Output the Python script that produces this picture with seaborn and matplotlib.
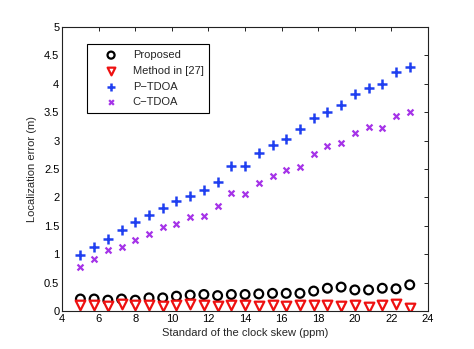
import numpy as np
import pandas as pd
import matplotlib
matplotlib.use("Agg")
import matplotlib.pyplot as plt
import seaborn as sns

# Clock skew standard deviation (ppm)
skew = [5, 5.75, 6.5, 7.25, 8, 8.75, 9.5, 10.25, 11, 11.75, 12.5, 13.25, 14,
        14.75, 15.5, 16.25, 17, 17.75, 18.5, 19.25, 20, 20.75, 21.5, 22.25, 23]

# Localization error (m) for each method
proposed = [0.21, 0.21, 0.19, 0.21, 0.19, 0.23, 0.23, 0.26, 0.28, 0.29, 0.27, 0.29, 0.29,
            0.30, 0.31, 0.31, 0.31, 0.35, 0.40, 0.42, 0.37, 0.37, 0.40, 0.39, 0.46]
method27 = [0.11, 0.10, 0.09, 0.12, 0.10, 0.10, 0.08, 0.11, 0.13, 0.10, 0.09, 0.11, 0.11,
            0.09, 0.10, 0.09, 0.10, 0.10, 0.10, 0.09, 0.10, 0.07, 0.10, 0.13, 0.06]
p_tdoa = [0.98, 1.13, 1.27, 1.42, 1.56, 1.69, 1.81, 1.94, 2.03, 2.13, 2.27, 2.56, 2.56,
          2.78, 2.92, 3.03, 3.20, 3.40, 3.51, 3.63, 3.81, 3.93, 3.99, 4.20, 4.29]
c_tdoa = [0.77, 0.91, 1.08, 1.13, 1.25, 1.36, 1.47, 1.53, 1.65, 1.68, 1.85, 2.08, 2.06,
          2.25, 2.37, 2.48, 2.54, 2.77, 2.91, 2.96, 3.13, 3.23, 3.22, 3.44, 3.50]

labels = ["Proposed", "Method in [27]", "P\u2212TDOA", "C\u2212TDOA"]

sns.set_theme(style="white")
plt.rcParams["font.family"] = ["Liberation Sans", "DejaVu Sans"]
plt.rcParams["font.size"] = 8

fig = plt.figure(figsize=(4.74, 3.49), dpi=100)
ax = fig.add_axes([0.131, 0.109, 0.772, 0.814])

df = pd.DataFrame({"skew": skew, "proposed": proposed, "method27": method27,
                   "p_tdoa": p_tdoa, "c_tdoa": c_tdoa})

sns.scatterplot(data=df, x="skew", y="proposed", ax=ax, marker="o", s=40,
                facecolor="none", edgecolor="black", linewidth=1.6, label=labels[0])
sns.scatterplot(data=df, x="skew", y="method27", ax=ax, marker="v", s=48,
                facecolor="white", edgecolor="#ee1111", linewidth=1.6, label=labels[1])
sns.scatterplot(data=df, x="skew", y="p_tdoa", ax=ax, marker="+", s=48,
                color="#1f3ff0", linewidth=1.8, label=labels[2])
sns.scatterplot(data=df, x="skew", y="c_tdoa", ax=ax, marker="x", s=18,
                color="#a533e8", linewidth=1.6, label=labels[3])

ax.set_xlim(4, 24)
ax.set_ylim(0, 5)
ax.set_xticks(np.arange(4, 25, 2))
ax.set_yticks(np.arange(0, 5.01, 0.5))
ax.set_yticklabels([f"{v:g}" for v in np.arange(0, 5.01, 0.5)])
ax.tick_params(direction="in", length=3, width=0.6, top=True, right=True,
               labelsize=8, colors="black", pad=2)
for sp in ax.spines.values():
    sp.set_color("#222222")
    sp.set_linewidth(0.8)

ax.set_xlabel("Standard of the clock skew (ppm)", fontsize=8, labelpad=3)
ax.set_ylabel("Localization error (m)", fontsize=8, labelpad=5)

leg = ax.legend(loc="upper left", bbox_to_anchor=(0.067, 0.938), fontsize=8,
                frameon=True, fancybox=False, edgecolor="black", framealpha=1,
                labelspacing=0.52, handlelength=3.4, handletextpad=0.25,
                borderpad=0.5, borderaxespad=0, markerscale=0.8)
leg.get_frame().set_linewidth(0.8)

fig.savefig("out.png", dpi=100)
